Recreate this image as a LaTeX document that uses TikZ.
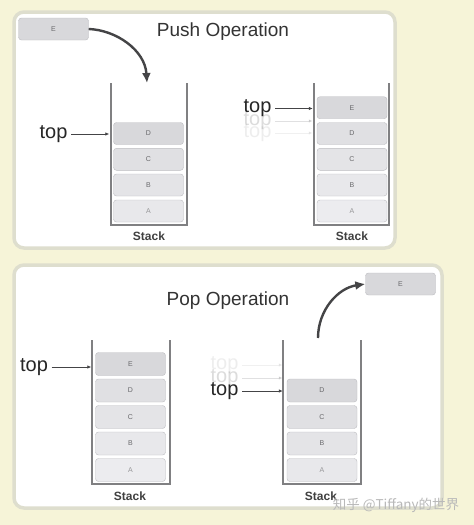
\documentclass[tikz,border=0pt]{standalone}
\usepackage{fontspec}
\setmainfont{Liberation Sans}
\newfontfamily\cjkfont{Noto Sans CJK SC}
\usetikzlibrary{arrows.meta,positioning}
\definecolor{creambg}{RGB}{246,244,216}
\definecolor{panelrim}{RGB}{222,222,206}
\definecolor{wallgray}{RGB}{128,128,130}
\definecolor{arrowgray}{RGB}{68,68,70}
\definecolor{boxrim}{RGB}{188,188,192}
\definecolor{letgray}{RGB}{105,105,108}
\definecolor{toneA}{RGB}{216,216,219}
\definecolor{toneB}{RGB}{224,224,227}
\definecolor{toneC}{RGB}{228,228,231}
\definecolor{toneD}{RGB}{232,232,235}
\definecolor{toneE}{RGB}{236,236,239}

\begin{document}
\begin{tikzpicture}[
  x=1pt, y=-1pt,
  >=Latex,
  panel/.style={draw=panelrim, line width=3.5pt, fill=white, rounded corners=10pt},
  cell/.style={draw=boxrim, rounded corners=3pt, minimum width=70pt,
    minimum height=22pt, inner sep=0pt, font=\fontsize{7}{8}\selectfont, text=letgray},
  wall/.style={draw=wallgray, line width=1.3pt},
  title/.style={font=\fontsize{19}{22}\selectfont, text=black!80, anchor=base},
  toplabel/.style={font=\fontsize{20}{24}\selectfont, text=black!85, anchor=east},
  stacklabel/.style={font=\bfseries\fontsize{12}{14}\selectfont, text=black!75},
  pointer/.style={->, draw=arrowgray, line width=0.8pt, shorten >=4pt,
    >={Latex[length=4pt,width=3.5pt]}},
  bigarrow/.style={draw=arrowgray, line width=2.4pt, -{Latex[length=10pt,width=9pt]}}
]

% --- Háttér és panelek ---
\fill[creambg] (0,0) rectangle (474,525);
\useasboundingbox (0,0) rectangle (474,525);
\draw[panel] (14,12) rectangle (395,248);
\draw[panel] (14,265) rectangle (442,508);

% --- Push: felső panel ---
\node[title] (pushtitle) at (223,36.5) {Push Operation};
\node[cell, fill=toneA] (pushE) at (53.5,29) {E};
\coordinate (pushdrop) at (147,83);

% Bal verem (előtte)
\draw[wall] (111,83) |- (187,225) -- (187,83);
\node[cell, fill=toneA] (pushLD) at (148.5,133.5) {D};
\node[cell, fill=toneB] (pushLC) at (148.5,159.3) {C};
\node[cell, fill=toneC] (pushLB) at (148.5,185) {B};
\node[cell, fill=toneD, text=letgray!70] (pushLA) at (148.5,211) {A};
\node[stacklabel] (pushLstack) at (149,236) {Stack};
\node[toplabel] (pushLtop) at (71,134) {top};

% Jobb verem (utána)
\draw[wall] (314,83) |- (389,225) -- (389,83);
\node[cell, fill=toneA] (pushRE) at (352,107.7) {E};
\node[cell, fill=toneB] (pushRD) at (352,133.5) {D};
\node[cell, fill=toneC] (pushRC) at (352,159.3) {C};
\node[cell, fill=toneD] (pushRB) at (352,185) {B};
\node[cell, fill=toneE, text=letgray!70] (pushRA) at (352,211) {A};
\node[stacklabel] (pushRstack) at (352,236) {Stack};
\node[toplabel, opacity=0.08] (pushRghostB) at (275,133) {top};
\node[toplabel, opacity=0.16] (pushRghostA) at (275,121) {top};
\node[toplabel] (pushRtop) at (275,108.5) {top};

% --- Pop: alsó panel ---
\node[title] (poptitle) at (228,305) {Pop Operation};
\node[cell, fill=toneA] (popE) at (400.5,284) {E};
\coordinate (poplift) at (318,338);

% Bal verem (előtte)
\draw[wall] (92,340) |- (170,484) -- (170,340);
\node[cell, fill=toneA, minimum height=23pt] (popLE) at (130.5,364) {E};
\node[cell, fill=toneB, minimum height=23pt] (popLD) at (130.5,390.5) {D};
\node[cell, fill=toneC, minimum height=23pt] (popLC) at (130.5,417) {C};
\node[cell, fill=toneD, minimum height=23pt] (popLB) at (130.5,443.5) {B};
\node[cell, fill=toneE, minimum height=23pt, text=letgray!70] (popLA) at (130.5,470) {A};
\node[stacklabel] (popLstack) at (130,496) {Stack};
\node[toplabel] (popLtop) at (51.5,367) {top};

% Jobb verem (utána)
\draw[wall] (283,340) |- (361,484) -- (361,340);
\node[cell, fill=toneA, minimum height=23pt] (popRD) at (322,390.5) {D};
\node[cell, fill=toneB, minimum height=23pt] (popRC) at (322,417) {C};
\node[cell, fill=toneC, minimum height=23pt] (popRB) at (322,443.5) {B};
\node[cell, fill=toneD, minimum height=23pt, text=letgray!70] (popRA) at (322,470) {A};
\node[stacklabel] (popRstack) at (321,496) {Stack};
\node[toplabel, opacity=0.08] (popRghostA) at (242,365) {top};
\node[toplabel, opacity=0.16] (popRghostB) at (242,378) {top};
\node[toplabel] (popRtop) at (242,391) {top};

% --- Nyilak ---

% top mutatók
\draw[pointer] (pushLtop.east) -- (pushLtop.east -| pushLD.west);
\draw[pointer] (pushRtop.east) -- (pushRtop.east -| pushRE.west);
\draw[pointer, opacity=0.16] (pushRghostA.east) -- (pushRghostA.east -| pushRE.west);
\draw[pointer, opacity=0.08] (pushRghostB.east) -- (pushRghostB.east -| pushRE.west);
\draw[pointer] (popLtop.east) -- (popLtop.east -| popLE.west);
\draw[pointer] (popRtop.east) -- (popRtop.east -| popRD.west);
\draw[pointer, opacity=0.08] (popRghostA.east) -- (popRghostA.east -| popRD.west);
\draw[pointer, opacity=0.16] (popRghostB.east) -- (popRghostB.east -| popRD.west);

% E be a verembe, E ki a veremből
\draw[bigarrow] (pushE.east) .. controls (116,30) and (145,50) .. (pushdrop);
\draw[bigarrow] (poplift) .. controls (318,310) and (338,288) .. (popE.west);

% Vízjel
\node[font=\cjkfont\fontsize{13.5}{15}\selectfont, text=gray!55] (mark) at (396,505) {知乎 @Tiffany的世界};

\end{tikzpicture}
\end{document}
